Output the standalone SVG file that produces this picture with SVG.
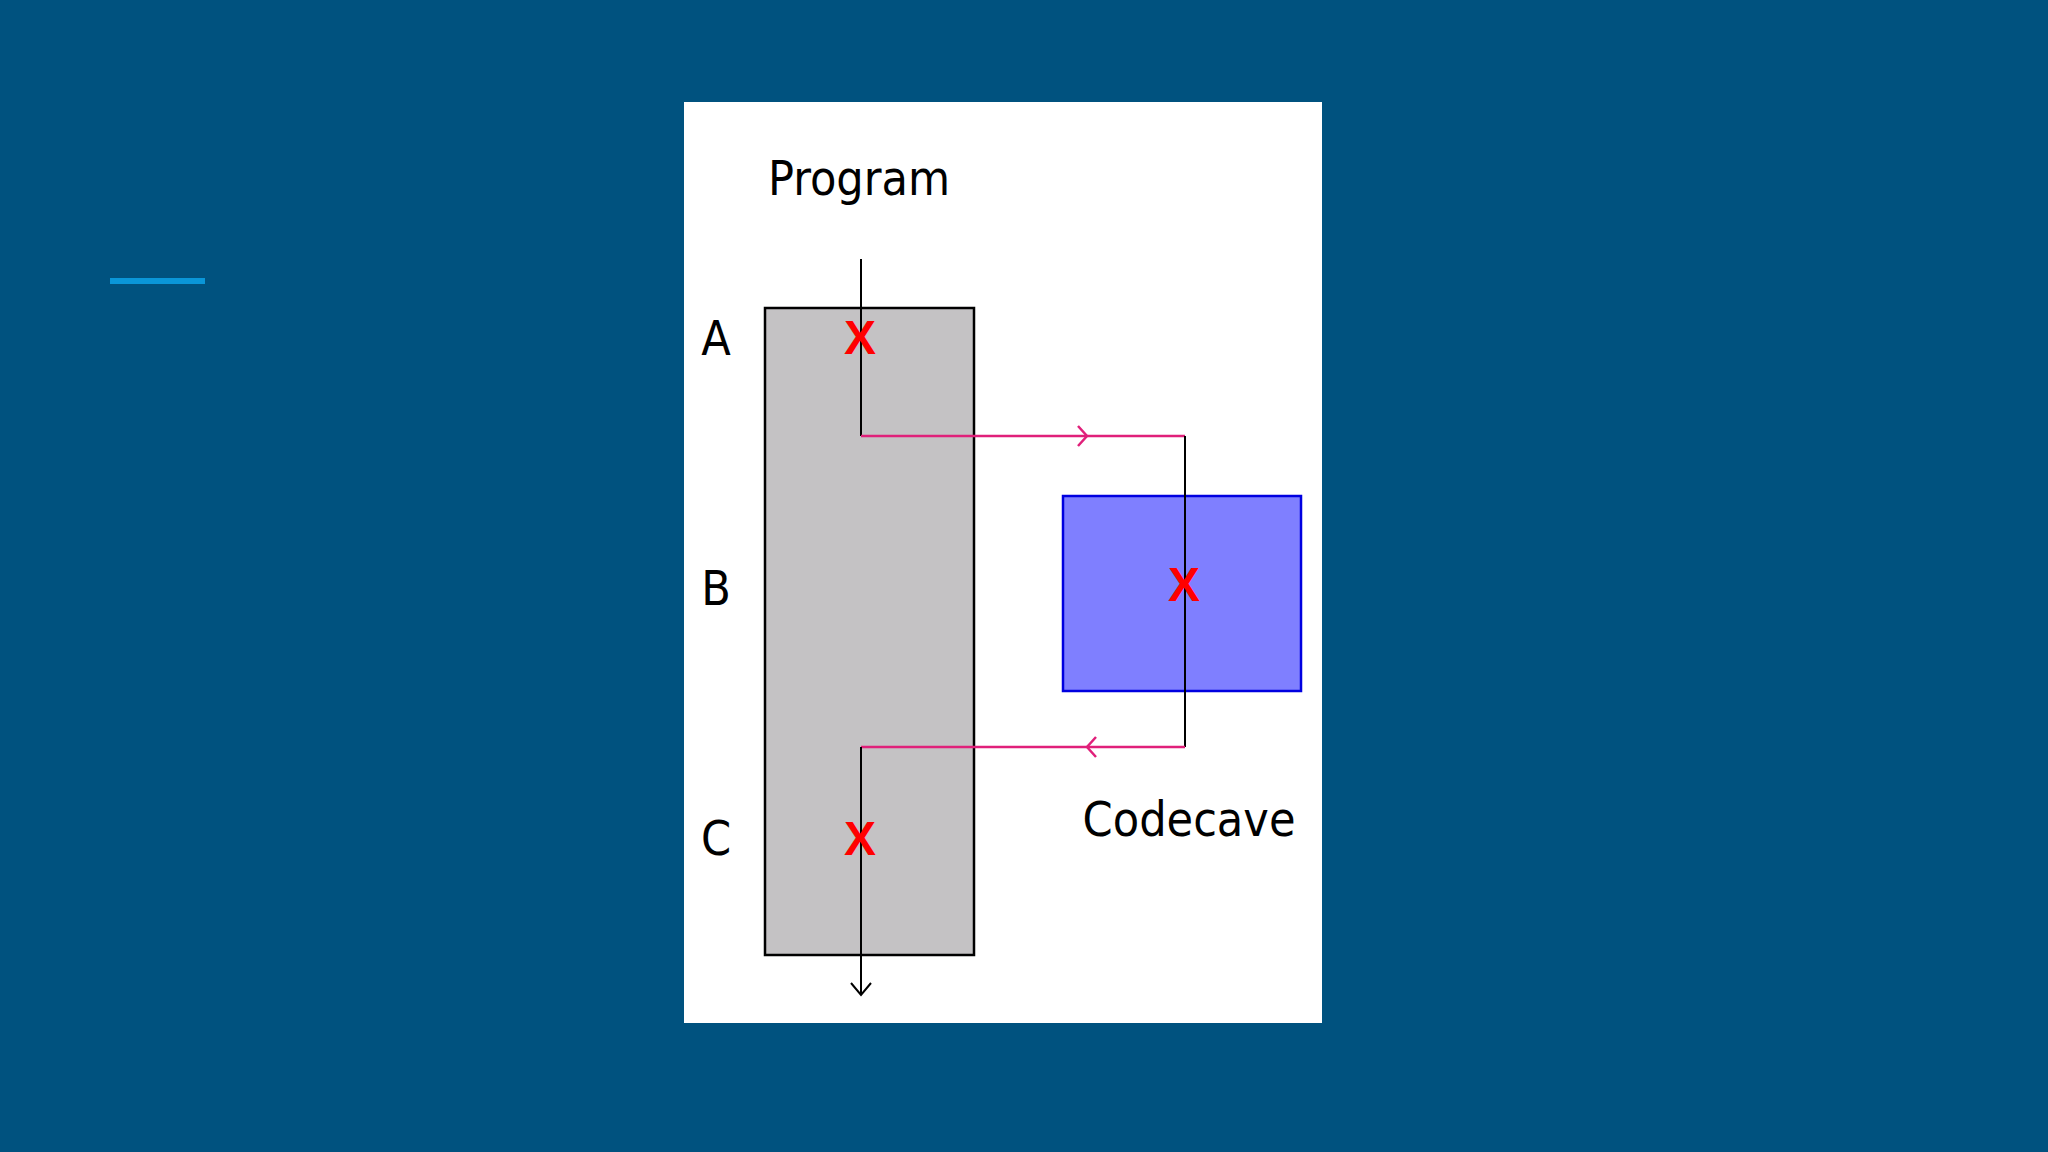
<svg xmlns="http://www.w3.org/2000/svg" width="2048" height="1152" viewBox="0 0 2048 1152">
<style>
.lbl{font-family:"Liberation Sans Narrow","DejaVu Sans Condensed","Liberation Sans",sans-serif;font-size:48px;fill:#000;text-anchor:middle;font-stretch:condensed}
.x{font-family:"Liberation Sans",sans-serif;font-weight:bold;font-size:48px;fill:#f00;text-anchor:middle}
.bk{stroke:#000;stroke-width:2;fill:none}
.pk{stroke:#e0207a;stroke-width:2.5;fill:none}
</style>
<rect width="2048" height="1152" fill="#00527F"/>
<rect x="110" y="278" width="95" height="6" fill="#0A96D8"/>
<rect x="684" y="102" width="638" height="921" fill="#fff"/>
<g id="program"><rect x="765" y="308" width="209" height="647" fill="#c4c2c4" stroke="#000" stroke-width="2.5"/>
<text class="lbl" x="859" y="195">Program</text></g>
<g id="labels"><text class="lbl" x="716" y="355">A</text><text class="lbl" x="716" y="605">B</text><text class="lbl" x="716" y="855">C</text></g>
<g id="codecave"><rect x="1063" y="496" width="238" height="195" fill="#7f7fff" stroke="#0000e0" stroke-width="2.5"/>
<text class="lbl" x="1189" y="836">Codecave</text></g>
<g id="connectors">
<path class="bk" d="M861 259V436"/>
<path class="pk" d="M861 436H1185"/>
<path class="pk" d="M1078 426l9 10-9 10"/>
<path class="bk" d="M1185 436V747"/>
<path class="pk" d="M1185 747H861"/>
<path class="pk" d="M1096 737l-9 10 9 10"/>
<path class="bk" d="M861 747V995M851 983l10 12 10-12"/>
</g>
<g id="marks"><text class="x" x="860" y="354">X</text><text class="x" x="1184" y="601">X</text><text class="x" x="860" y="855">X</text></g>
</svg>
